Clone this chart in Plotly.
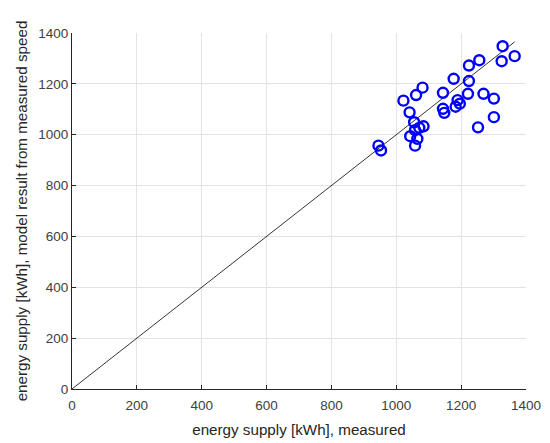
import plotly.graph_objects as go

# measured energy supply [kWh]
measured = [1328, 1365, 1325, 1256, 1224, 1177, 1224, 1144, 1221, 1269,
            1301, 1189, 1196, 1183, 1144, 1148, 1301, 1252, 1081, 1061,
            1022, 1041, 1055, 1084, 1071, 1058, 1043, 1065, 1058, 945, 953]
# model result from measured speed [kWh]
model = [1348, 1309, 1289, 1293, 1272, 1220, 1211, 1165, 1161, 1161,
         1142, 1136, 1122, 1110, 1102, 1086, 1069, 1029, 1185, 1156,
         1134, 1088, 1049, 1033, 1027, 1018, 994, 984, 957, 957, 938]

line_ends = [0, max(measured)]

fig = go.Figure()
fig.add_trace(go.Scatter(x=line_ends, y=line_ends, mode="lines",
                         line=dict(color="black", width=0.8), hoverinfo="skip"))
fig.add_trace(go.Scatter(x=measured, y=model, mode="markers",
                         marker=dict(symbol="circle-open", size=10, color="#0000ff",
                                     line=dict(width=2.4, color="#0000ff"))))

axis_common = dict(range=[0, 1400], dtick=200, showgrid=True, gridcolor="#e3e3e3",
                   gridwidth=1, zeroline=False, showline=True, linecolor="#262626",
                   linewidth=1, ticks="inside", ticklen=4, tickcolor="#262626",
                   automargin=False,
                   tickfont=dict(family="Liberation Sans, Arial", size=13.5, color="#404040"))

fig.update_xaxes(**axis_common, ticklabelstandoff=4,
                 title=dict(text="energy supply [kWh], measured", standoff=12,
                            font=dict(family="Liberation Sans, Arial", size=15.2, color="#262626")))
fig.update_yaxes(**axis_common,
                 title=dict(text="energy supply [kWh], model result from measured speed", standoff=6,
                            font=dict(family="Liberation Sans, Arial", size=15.2, color="#262626")))

# page body adds an 8px offset, so margins are shifted to compensate
fig.update_layout(width=550, height=443, showlegend=False,
                  plot_bgcolor="white", paper_bgcolor="white",
                  margin=dict(l=64, r=32, t=25, b=62))

fig.write_html("out.html")
